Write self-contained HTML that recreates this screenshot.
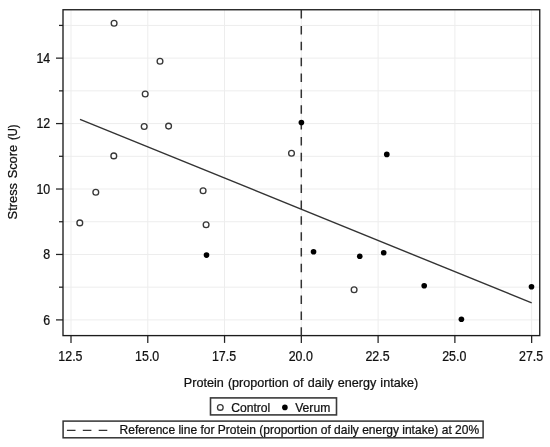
<!DOCTYPE html>
<html><head><meta charset="utf-8"><title>Stress Score vs Protein</title>
<style>
html,body{margin:0;padding:0;background:#fff;}
svg{display:block;}
text{font-family:"Liberation Sans",Arial,sans-serif;font-size:12.8px;fill:#111;stroke:#111;stroke-width:0.25px;}
</style></head><body>
<svg width="550" height="447" viewBox="0 0 550 447">
<rect x="0" y="0" width="550" height="447" fill="#fff"/>

<g stroke="#ededed" stroke-width="1"><line x1="71.00" y1="9.75" x2="71.00" y2="335.60"/><line x1="147.78" y1="9.75" x2="147.78" y2="335.60"/><line x1="224.55" y1="9.75" x2="224.55" y2="335.60"/><line x1="301.33" y1="9.75" x2="301.33" y2="335.60"/><line x1="378.10" y1="9.75" x2="378.10" y2="335.60"/><line x1="454.88" y1="9.75" x2="454.88" y2="335.60"/><line x1="531.65" y1="9.75" x2="531.65" y2="335.60"/><line x1="63.00" y1="319.90" x2="539.75" y2="319.90"/><line x1="63.00" y1="287.18" x2="539.75" y2="287.18"/><line x1="63.00" y1="254.46" x2="539.75" y2="254.46"/><line x1="63.00" y1="221.74" x2="539.75" y2="221.74"/><line x1="63.00" y1="189.02" x2="539.75" y2="189.02"/><line x1="63.00" y1="156.30" x2="539.75" y2="156.30"/><line x1="63.00" y1="123.58" x2="539.75" y2="123.58"/><line x1="63.00" y1="90.86" x2="539.75" y2="90.86"/><line x1="63.00" y1="58.14" x2="539.75" y2="58.14"/><line x1="63.00" y1="25.42" x2="539.75" y2="25.42"/></g>
<g stroke="#222" stroke-width="1.25"><line x1="71.00" y1="335.60" x2="71.00" y2="342.90"/><line x1="147.78" y1="335.60" x2="147.78" y2="342.90"/><line x1="224.55" y1="335.60" x2="224.55" y2="342.90"/><line x1="301.33" y1="335.60" x2="301.33" y2="342.90"/><line x1="378.10" y1="335.60" x2="378.10" y2="342.90"/><line x1="454.88" y1="335.60" x2="454.88" y2="342.90"/><line x1="531.65" y1="335.60" x2="531.65" y2="342.90"/><line x1="56.00" y1="319.90" x2="63.00" y2="319.90"/><line x1="59.00" y1="287.18" x2="63.00" y2="287.18"/><line x1="56.00" y1="254.46" x2="63.00" y2="254.46"/><line x1="59.00" y1="221.74" x2="63.00" y2="221.74"/><line x1="56.00" y1="189.02" x2="63.00" y2="189.02"/><line x1="59.00" y1="156.30" x2="63.00" y2="156.30"/><line x1="56.00" y1="123.58" x2="63.00" y2="123.58"/><line x1="59.00" y1="90.86" x2="63.00" y2="90.86"/><line x1="56.00" y1="58.14" x2="63.00" y2="58.14"/><line x1="59.00" y1="25.42" x2="63.00" y2="25.42"/></g>
<rect x="63.00" y="9.75" width="476.75" height="325.85" fill="none" stroke="#1c1c1c" stroke-width="1.35"/>
<line x1="301.3" y1="10.10" x2="301.3" y2="335.60" stroke="#333" stroke-width="1.5" stroke-dasharray="8.5 7.36"/>
<line x1="80" y1="119.3" x2="531.7" y2="302.9" stroke="#333" stroke-width="1.4"/>
<circle cx="114.10" cy="23.20" r="2.88" fill="#fff" stroke="#383838" stroke-width="1.35"/>
<circle cx="160.00" cy="61.20" r="2.88" fill="#fff" stroke="#383838" stroke-width="1.35"/>
<circle cx="145.20" cy="94.00" r="2.88" fill="#fff" stroke="#383838" stroke-width="1.35"/>
<circle cx="144.20" cy="126.45" r="2.88" fill="#fff" stroke="#383838" stroke-width="1.35"/>
<circle cx="168.60" cy="126.10" r="2.88" fill="#fff" stroke="#383838" stroke-width="1.35"/>
<circle cx="113.80" cy="155.90" r="2.88" fill="#fff" stroke="#383838" stroke-width="1.35"/>
<circle cx="95.80" cy="192.30" r="2.88" fill="#fff" stroke="#383838" stroke-width="1.35"/>
<circle cx="203.10" cy="190.80" r="2.88" fill="#fff" stroke="#383838" stroke-width="1.35"/>
<circle cx="79.80" cy="222.90" r="2.88" fill="#fff" stroke="#383838" stroke-width="1.35"/>
<circle cx="206.10" cy="224.70" r="2.88" fill="#fff" stroke="#383838" stroke-width="1.35"/>
<circle cx="291.50" cy="153.20" r="2.88" fill="#fff" stroke="#383838" stroke-width="1.35"/>
<circle cx="354.10" cy="289.70" r="2.88" fill="#fff" stroke="#383838" stroke-width="1.35"/>
<circle cx="301.40" cy="122.45" r="2.82" fill="#000"/>
<circle cx="386.80" cy="154.40" r="2.82" fill="#000"/>
<circle cx="206.50" cy="255.10" r="2.82" fill="#000"/>
<circle cx="313.55" cy="251.80" r="2.82" fill="#000"/>
<circle cx="359.75" cy="256.30" r="2.82" fill="#000"/>
<circle cx="383.70" cy="252.75" r="2.82" fill="#000"/>
<circle cx="424.20" cy="285.80" r="2.82" fill="#000"/>
<circle cx="531.50" cy="286.80" r="2.82" fill="#000"/>
<circle cx="461.40" cy="319.20" r="2.82" fill="#000"/>
<text transform="translate(70.40,361.30) scale(0.9000,1)" text-anchor="middle" style="font-size:13.80px;word-spacing:0.00px">12.5</text>
<text transform="translate(147.18,361.30) scale(0.9000,1)" text-anchor="middle" style="font-size:13.80px;word-spacing:0.00px">15.0</text>
<text transform="translate(223.95,361.30) scale(0.9000,1)" text-anchor="middle" style="font-size:13.80px;word-spacing:0.00px">17.5</text>
<text transform="translate(300.73,361.30) scale(0.9000,1)" text-anchor="middle" style="font-size:13.80px;word-spacing:0.00px">20.0</text>
<text transform="translate(377.50,361.30) scale(0.9000,1)" text-anchor="middle" style="font-size:13.80px;word-spacing:0.00px">22.5</text>
<text transform="translate(454.27,361.30) scale(0.9000,1)" text-anchor="middle" style="font-size:13.80px;word-spacing:0.00px">25.0</text>
<text transform="translate(531.05,361.30) scale(0.9000,1)" text-anchor="middle" style="font-size:13.80px;word-spacing:0.00px">27.5</text>
<text transform="translate(50.20,324.70) scale(0.9000,1)" text-anchor="end" style="font-size:13.80px;word-spacing:0.00px">6</text>
<text transform="translate(50.20,259.26) scale(0.9000,1)" text-anchor="end" style="font-size:13.80px;word-spacing:0.00px">8</text>
<text transform="translate(50.20,193.82) scale(0.9000,1)" text-anchor="end" style="font-size:13.80px;word-spacing:0.00px">10</text>
<text transform="translate(50.20,128.38) scale(0.9000,1)" text-anchor="end" style="font-size:13.80px;word-spacing:0.00px">12</text>
<text transform="translate(50.20,62.94) scale(0.9000,1)" text-anchor="end" style="font-size:13.80px;word-spacing:0.00px">14</text>
<text transform="translate(301.00,387.40) scale(0.9400,1)" text-anchor="middle" style="font-size:13.40px;word-spacing:0.70px">Protein (proportion of daily energy intake)</text>
<text transform="translate(17,219.38) rotate(-90)" style="font-size:13.4px" textLength="36.43" lengthAdjust="spacingAndGlyphs">Stress</text>
<text transform="translate(17,178.37) rotate(-90)" style="font-size:13.4px" textLength="33.46" lengthAdjust="spacingAndGlyphs">Score</text>
<text transform="translate(17,140.07) rotate(-90)" style="font-size:13.4px" textLength="15.63" lengthAdjust="spacingAndGlyphs">(U)</text>
<rect x="210.5" y="397.9" width="126" height="17" fill="#fff" stroke="#3a3a3a" stroke-width="1.6"/>
<circle cx="220.3" cy="407.4" r="2.85" fill="#fff" stroke="#383838" stroke-width="1.3"/>
<text transform="translate(231.20,412.00) scale(0.9550,1)" text-anchor="start" style="font-size:12.70px;word-spacing:0.00px">Control</text>
<circle cx="284.9" cy="407.4" r="2.8" fill="#000"/>
<text transform="translate(295.20,412.00) scale(0.9550,1)" text-anchor="start" style="font-size:12.70px;word-spacing:0.00px">Verum</text>
<rect x="63.1" y="421.1" width="420" height="16.7" fill="#fff" stroke="#333" stroke-width="1.5"/>
<line x1="66.9" y1="430.4" x2="107.4" y2="430.4" stroke="#333" stroke-width="1.4" stroke-dasharray="8.6 7.3"/>
<text transform="translate(119.60,434.30) scale(0.9475,1)" text-anchor="start" style="font-size:12.70px;word-spacing:0.00px">Reference line for Protein (proportion of daily energy intake) at 20%</text>
</svg></body></html>
